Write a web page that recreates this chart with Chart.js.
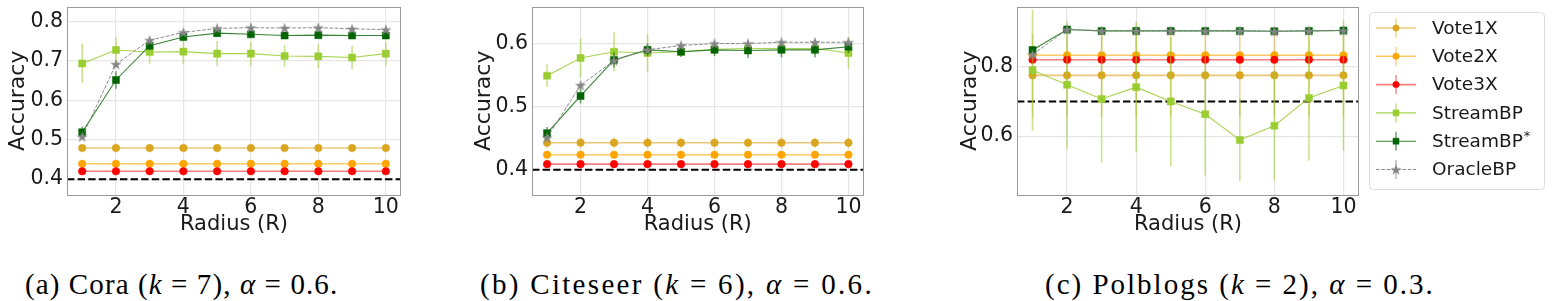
<!DOCTYPE html>
<html>
<head>
<meta charset="utf-8">
<script src="https://cdn.jsdelivr.net/npm/chart.js@4.4.0/dist/chart.umd.min.js"></script>
<style>
  body { margin: 0; width: 1554px; height: 301px; background: #fff; position: relative; overflow: hidden; }
  .panel { position: absolute; top: 0; height: 240px; }
  .cap { position: absolute; top: 268px; font-family: 'Liberation Serif', serif; font-size: 29px;
         line-height: 32px; color: #000; white-space: nowrap; }
</style>
</head>
<body>
<div class="panel" style="left:0;width:410px"><canvas id="cora"></canvas></div>
<div class="panel" style="left:430px;width:440px"><canvas id="citeseer"></canvas></div>
<div class="panel" style="left:900px;width:654px"><canvas id="polblogs"></canvas></div>
<div class="cap" style="left:25px;letter-spacing:1.1px">(a) Cora (<i>k</i> = 7), <i>α</i> = 0.6.</div>
<div class="cap" style="left:480px;letter-spacing:2.3px">(b) Citeseer (<i>k</i> = 6), <i>α</i> = 0.6.</div>
<div class="cap" style="left:1045px;letter-spacing:2px">(c) Polblogs (<i>k</i> = 2), <i>α</i> = 0.3.</div>
<script>
// ---- data ----
const radius = [1, 2, 3, 4, 5, 6, 7, 8, 9, 10];
const xTicks = [2, 4, 6, 8, 10];
const seriesNames = ['Vote1X', 'Vote2X', 'Vote3X', 'StreamBP', 'StreamBP*', 'OracleBP'];

// (a) Cora
const coraVote1X     = [0.479, 0.479, 0.479, 0.479, 0.479, 0.479, 0.479, 0.479, 0.479, 0.479];
const coraVote2X     = [0.439, 0.439, 0.439, 0.439, 0.439, 0.439, 0.439, 0.439, 0.439, 0.439];
const coraVote3X     = [0.420, 0.420, 0.420, 0.420, 0.420, 0.420, 0.420, 0.420, 0.420, 0.420];
const coraVoteErr    = [0.004, 0.004, 0.004, 0.004, 0.004, 0.004, 0.004, 0.004, 0.004, 0.004];
const coraStream     = [0.694, 0.728, 0.723, 0.724, 0.719, 0.719, 0.713, 0.712, 0.709, 0.719];
const coraStreamErr  = [0.050, 0.032, 0.030, 0.032, 0.032, 0.030, 0.028, 0.030, 0.030, 0.030];
const coraStar       = [0.519, 0.652, 0.739, 0.761, 0.771, 0.768, 0.765, 0.766, 0.765, 0.765];
const coraStarErr    = [0.015, 0.022, 0.010, 0.008, 0.008, 0.008, 0.008, 0.008, 0.008, 0.008];
const coraOracle     = [0.508, 0.692, 0.753, 0.773, 0.783, 0.785, 0.784, 0.785, 0.782, 0.780];
const coraYTicks     = [0.4, 0.5, 0.6, 0.7, 0.8];

// (b) Citeseer
const citeVote1X     = [0.443, 0.443, 0.443, 0.443, 0.443, 0.443, 0.443, 0.443, 0.443, 0.443];
const citeVote2X     = [0.424, 0.424, 0.424, 0.424, 0.424, 0.424, 0.424, 0.424, 0.424, 0.424];
const citeVote3X     = [0.409, 0.409, 0.409, 0.409, 0.409, 0.409, 0.409, 0.409, 0.409, 0.409];
const citeVote1XErr  = [0.008, 0.008, 0.008, 0.008, 0.008, 0.008, 0.008, 0.008, 0.008, 0.008];
const citeVoteErr    = [0.004, 0.004, 0.004, 0.004, 0.004, 0.004, 0.004, 0.004, 0.004, 0.004];
const citeStream     = [0.549, 0.577, 0.587, 0.585, 0.587, 0.591, 0.592, 0.592, 0.592, 0.585];
const citeStreamErr  = [0.018, 0.031, 0.031, 0.030, 0.008, 0.008, 0.010, 0.010, 0.010, 0.025];
const citeStar       = [0.458, 0.517, 0.574, 0.590, 0.587, 0.590, 0.589, 0.590, 0.590, 0.595];
const citeStarErr    = [0.010, 0.012, 0.012, 0.010, 0.008, 0.010, 0.012, 0.012, 0.012, 0.010];
const citeOracle     = [0.451, 0.534, 0.573, 0.590, 0.597, 0.600, 0.600, 0.602, 0.602, 0.602];
const citeYTicks     = [0.4, 0.5, 0.6];

// (c) Polblogs
const polVote1X      = [0.775, 0.775, 0.775, 0.775, 0.775, 0.775, 0.775, 0.775, 0.775, 0.775];
const polVote2X      = [0.833, 0.833, 0.833, 0.833, 0.833, 0.833, 0.833, 0.833, 0.833, 0.833];
const polVote3X      = [0.820, 0.820, 0.820, 0.820, 0.820, 0.820, 0.820, 0.820, 0.820, 0.820];
const polVote1XErr   = [0.120, 0.120, 0.120, 0.120, 0.120, 0.120, 0.120, 0.120, 0.120, 0.120];
const polVoteErr     = [0.005, 0.005, 0.005, 0.005, 0.005, 0.005, 0.005, 0.005, 0.005, 0.005];
const polStream      = [0.790, 0.748, 0.707, 0.741, 0.700, 0.663, 0.589, 0.630, 0.710, 0.746];
const polStreamErr   = [0.174, 0.184, 0.183, 0.189, 0.186, 0.176, 0.119, 0.158, 0.181, 0.187];
const polStar        = [0.848, 0.907, 0.903, 0.903, 0.903, 0.903, 0.903, 0.902, 0.903, 0.904];
const polStarErr     = [0.010, 0.005, 0.005, 0.005, 0.005, 0.005, 0.005, 0.005, 0.005, 0.005];
const polOracle      = [0.835, 0.907, 0.903, 0.903, 0.903, 0.903, 0.903, 0.902, 0.903, 0.904];
const polYTicks      = [0.6, 0.8];

// dashed black reference line per panel
const baselines = [0.4, 0.4, 0.7];

// ---- styling ----
const FONT = 'DejaVu Sans';
const TXT = '#1a1a1a';

function starImage(size, color) {
  const c = document.createElement('canvas');
  c.width = c.height = size;
  const g = c.getContext('2d');
  g.fillStyle = color;
  g.beginPath();
  for (let k = 0; k < 10; k++) {
    const r = k % 2 ? size * 0.19 : size * 0.5;
    const a = -Math.PI / 2 + k * Math.PI / 5;
    g.lineTo(size / 2 + r * Math.cos(a), size / 2 + 0.5 + r * Math.sin(a));
  }
  g.closePath();
  g.fill();
  return c;
}
const star = starImage(12, '#858585');

const styles = [
  { color: '#DAA520', line: 'rgba(218,165,32,0.6)',  err: 'rgba(218,165,32,0.45)', shape: 'circle', r: 3.8, w: 1.6 },
  { color: '#FFA500', line: 'rgba(255,165,0,0.6)',   err: 'rgba(255,165,0,0.45)',  shape: 'circle', r: 3.8, w: 1.6 },
  { color: '#FF0000', line: 'rgba(240,40,40,0.6)',   err: 'rgba(255,0,0,0.45)',    shape: 'circle', r: 3.8, w: 1.6 },
  { color: '#9ACD32', line: 'rgba(154,205,50,0.85)', err: 'rgba(154,205,50,0.55)', shape: 'rect',   r: 5,   w: 1.1 },
  { color: '#006400', line: 'rgba(20,110,20,0.85)',  err: 'rgba(0,100,0,0.55)',    shape: 'rect',   r: 5,   w: 1.1 },
  { color: '#808080', line: 'rgba(128,128,128,0.9)', err: 'rgba(128,128,128,0.5)', shape: star,     r: 6,   w: 1, dash: [3.7, 1.6] }
];

function buildDatasets(means, errs) {
  return means.map((m, i) => {
    const st = styles[i];
    return {
      label: seriesNames[i],
      data: radius.map((r, j) => ({ x: r, y: m[j] })),
      errors: errs[i],
      errColor: st.err,
      borderColor: st.line,
      borderWidth: st.w,
      borderDash: st.dash || [],
      backgroundColor: st.color,
      pointStyle: st.shape,
      pointRadius: st.r,
      pointHoverRadius: st.r,
      pointBackgroundColor: st.color,
      pointBorderColor: st.color,
      pointBorderWidth: 0.5,
      tension: 0,
      order: means.length - i
    };
  });
}

// error bars drawn right under each dataset's own line
const errorBarPlugin = {
  id: 'errorBars',
  beforeDatasetDraw(chart, args) {
    const ds = chart.data.datasets[args.index];
    if (!ds.errors) return;
    const { ctx, scales: { x, y } } = chart;
    ctx.save();
    ctx.strokeStyle = ds.errColor;
    ctx.lineWidth = 1.6;
    ds.data.forEach((p, j) => {
      const e = ds.errors[j];
      const px = x.getPixelForValue(p.x);
      ctx.beginPath();
      ctx.moveTo(px, y.getPixelForValue(p.y - e));
      ctx.lineTo(px, y.getPixelForValue(p.y + e));
      ctx.stroke();
    });
    ctx.restore();
  }
};

const framePlugin = {
  id: 'frame',
  beforeDatasetsDraw(chart) {
    const { ctx, chartArea: a, scales: { y } } = chart;
    const by = y.getPixelForValue(chart.options.plugins.frame.baseline);
    ctx.save();
    ctx.strokeStyle = '#000';
    ctx.lineWidth = 2;
    ctx.setLineDash([7.4, 3.2]);
    ctx.beginPath();
    ctx.moveTo(a.left, by);
    ctx.lineTo(a.right, by);
    ctx.stroke();
    ctx.restore();
  },
  afterDraw(chart) {
    const { ctx, chartArea: a } = chart;
    ctx.save();
    ctx.strokeStyle = '#9a9a9a';
    ctx.lineWidth = 1;
    ctx.strokeRect(Math.round(a.left) + 0.5, Math.round(a.top) + 0.5,
                   Math.round(a.right - a.left) - 1, Math.round(a.bottom - a.top) - 1);
    ctx.restore();
  }
};

// legend box placed to the right of panel (c)
const sideLegendPlugin = {
  id: 'sideLegend',
  afterDraw(chart) {
    const ctx = chart.ctx;
    const bx = 469.5, by = 12.5, bw = 175, bh = 177;
    ctx.save();
    ctx.fillStyle = 'rgba(255,255,255,0.85)';
    ctx.strokeStyle = '#dcdcdc';
    ctx.lineWidth = 1;
    ctx.beginPath();
    ctx.roundRect(bx, by, bw, bh, 4);
    ctx.fill();
    ctx.stroke();
    chart.data.datasets.forEach((ds, i) => {
      const cy = 28 + i * 28.3;
      const mx = 496;
      ctx.strokeStyle = ds.borderColor;
      ctx.lineWidth = ds.borderWidth;
      ctx.setLineDash(ds.borderDash);
      ctx.beginPath();
      ctx.moveTo(476, cy);
      ctx.lineTo(516, cy);
      ctx.stroke();
      ctx.setLineDash([]);
      ctx.strokeStyle = ds.errColor;
      ctx.lineWidth = 1.6;
      ctx.beginPath();
      ctx.moveTo(mx, cy - 9.5);
      ctx.lineTo(mx, cy + 9.5);
      ctx.stroke();
      ctx.fillStyle = ds.pointBackgroundColor;
      ctx.strokeStyle = ds.pointBorderColor;
      ctx.lineWidth = 0.5;
      Chart.helpers.drawPoint(ctx, { pointStyle: ds.pointStyle, radius: ds.pointRadius * 0.85, rotation: 0, borderWidth: 0.5 }, mx, cy);
      ctx.fillStyle = TXT;
      ctx.font = '18.5px "' + FONT + '"';
      ctx.textBaseline = 'middle';
      ctx.textAlign = 'left';
      const name = ds.label.replace('*', '');
      ctx.fillText(name, 532, cy + 1);
      if (ds.label.endsWith('*')) {
        const w = ctx.measureText(name).width;
        ctx.font = '13px "' + FONT + '"';
        ctx.fillText('*', 532 + w + 1, cy - 5);
      }
    });
    ctx.restore();
  }
};

function makeChart(id, means, errs, yMin, yMax, yTicks, baseline, axisW, titlePad, padRight, extra) {
  return new Chart(document.getElementById(id), {
    type: 'line',
    data: { datasets: buildDatasets(means, errs) },
    options: {
      responsive: true,
      maintainAspectRatio: false,
      animation: false,
      layout: { padding: { top: 5, right: padRight, left: 0, bottom: 0 } },
      plugins: {
        legend: { display: false },
        tooltip: { enabled: false },
        frame: { baseline }
      },
      scales: {
        x: {
          type: 'linear', min: 0.55, max: 10.45,
          afterBuildTicks: s => { s.ticks = xTicks.map(v => ({ value: v })); },
          afterFit: s => { s.height = 45; s.paddingLeft = 0; s.paddingRight = 0; },
          grid: { color: '#e6e6e6', lineWidth: 1.2, drawTicks: false },
          border: { display: false },
          ticks: { font: { family: FONT, size: 20.5 }, color: TXT, padding: 0, maxRotation: 0,
                   callback: v => String(v) },
          title: { display: true, text: 'Radius (R)', font: { family: FONT, size: 21 }, color: TXT,
                   padding: { top: 0, bottom: 3 } }
        },
        y: {
          min: yMin, max: yMax,
          afterBuildTicks: s => { s.ticks = yTicks.map(v => ({ value: v })); },
          afterFit: s => { s.width = axisW; s.paddingTop = 0; s.paddingBottom = 0; },
          grid: { color: '#e6e6e6', lineWidth: 1.2, drawTicks: false },
          border: { display: false },
          ticks: { font: { family: FONT, size: 20.5 }, color: TXT, padding: 4,
                   callback: v => v.toFixed(1) },
          title: { display: true, text: 'Accuracy', font: { family: FONT, size: 22 }, color: TXT,
                   padding: { top: titlePad } }
        }
      }
    },
    plugins: [errorBarPlugin, framePlugin].concat(extra || [])
  });
}

makeChart('cora',
  [coraVote1X, coraVote2X, coraVote3X, coraStream, coraStar, coraOracle],
  [coraVoteErr, coraVoteErr, coraVoteErr, coraStreamErr, coraStarErr, null],
  0.3597, 0.8387, coraYTicks, baselines[0], 67, 5, 9);

makeChart('citeseer',
  [citeVote1X, citeVote2X, citeVote3X, citeStream, citeStar, citeOracle],
  [citeVote1XErr, citeVoteErr, citeVoteErr, citeStreamErr, citeStarErr, null],
  0.3602, 0.6586, citeYTicks, baselines[1], 102, 41, 2);

makeChart('polblogs',
  [polVote1X, polVote2X, polVote3X, polStream, polStar, polOracle],
  [polVote1XErr, polVoteErr, polVoteErr, polStreamErr, polStarErr, null],
  0.4305, 0.9733, polYTicks, baselines[2], 117, 57, 195, [sideLegendPlugin]);
</script>
</body>
</html>
